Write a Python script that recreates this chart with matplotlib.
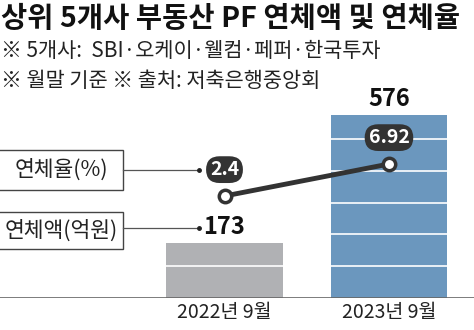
import matplotlib
matplotlib.use("Agg")
import matplotlib.pyplot as plt
from matplotlib.patches import Rectangle

plt.rcParams['font.family'] = ['Noto Sans CJK KR', 'DejaVu Sans']

# 데이터
periods = ["2022년 9월", "2023년 9월"]
amounts = [173, 576]        # 연체액(억원)
rates = [2.4, 6.92]         # 연체율(%)
amount_labels = ["173", "576"]
rate_labels = ["2.4", "6.92"]

title = "상위 5개사 부동산 PF 연체액 및 연체율"
note1 = "※ 5개사:  SBI·오케이·웰컴·페퍼·한국투자"
note2 = "※ 월말 기준 ※ 출처: 저축은행중앙회"

W, H = 474, 330
fig = plt.figure(figsize=(W / 100, H / 100), dpi=100)
fx = lambda x: x / W
fy = lambda y: 1 - y / H

# 막대 축: 바닥 298px, 위 100px
ax = fig.add_axes([0, fy(298), 1, (298 - 100) / H])
ax.set_xlim(-1.365, 1.517)
ax.set_ylim(0, 623)
ax.axis("off")

bar_colors = ["#b0b1b4", "#6b97be"]
x = [0, 1]
ax.bar(x, amounts, width=0.71, color=bar_colors, zorder=1)
for xi, a in zip(x, amounts):
    lv = [v for v in range(100, 600, 100) if v < a - 10]
    ax.hlines(lv, xi - 0.355, xi + 0.355, color="white", lw=1.2, zorder=2)
ax.axhline(0, color="#666666", lw=1.2, zorder=3)

for xi, a, lab in zip(x, amounts, amount_labels):
    ax.annotate(lab, (xi, a), xytext=(0, 3), textcoords="offset points",
                ha="center", va="bottom", fontsize=17, fontweight="bold",
                color="#111111")

for xi, p in zip(x, periods):
    ax.annotate(p, (xi, 0), xytext=(0, -3), textcoords="offset points",
                ha="center", va="top", fontsize=14, color="#222222",
                annotation_clip=False)

# 연체율 축
ax2 = ax.twinx()
ax2.set_ylim(-12.0, 15.96)
ax2.axis("off")
ax2.plot(x, rates, color="#333333", lw=3.5, zorder=4, solid_capstyle="round")
ax2.scatter(x, rates, s=80, facecolor="white", edgecolor="#333333",
            linewidth=2.5, zorder=5)
for xi, r, lab in zip(x, rates, rate_labels):
    ax2.annotate(lab, (xi, r), xytext=(0, 19), textcoords="offset points",
                 ha="center", va="center", fontsize=14, fontweight="bold",
                 color="white",
                 bbox=dict(boxstyle="round,pad=0.2,rounding_size=0.7",
                           fc="#333333", ec="none"))

# 제목
fig.text(fx(1), fy(19), title, fontsize=20.5, fontweight="bold",
         ha="left", va="center", color="#111111")
fig.text(fx(1), fy(51), note1, fontsize=15, ha="left", va="center",
         color="#222222")
fig.text(fx(1), fy(81), note2, fontsize=15, ha="left", va="center",
         color="#222222")

# 범례 상자
for (y0, y1, txt, ly) in [(150, 190, "연체율(%)", 170),
                          (212, 249, "연체액(억원)", 228)]:
    fig.patches.append(Rectangle((fx(-2), fy(y1)), fx(125), (y1 - y0) / H,
                                 transform=fig.transFigure, fc="white",
                                 ec="#444444", lw=1.0))
    fig.text(fx(61), fy((y0 + y1) / 2), txt, fontsize=15.5, ha="center",
             va="center", color="#222222")
    fig.lines.append(plt.Line2D([fx(123), fx(199)], [fy(ly), fy(ly)],
                                transform=fig.transFigure, color="#555555",
                                lw=0.9))
    fig.lines.append(plt.Line2D([fx(199)], [fy(ly)], transform=fig.transFigure,
                                marker="o", ms=2.5, color="#222222"))

fig.savefig("out.png", dpi=100)
